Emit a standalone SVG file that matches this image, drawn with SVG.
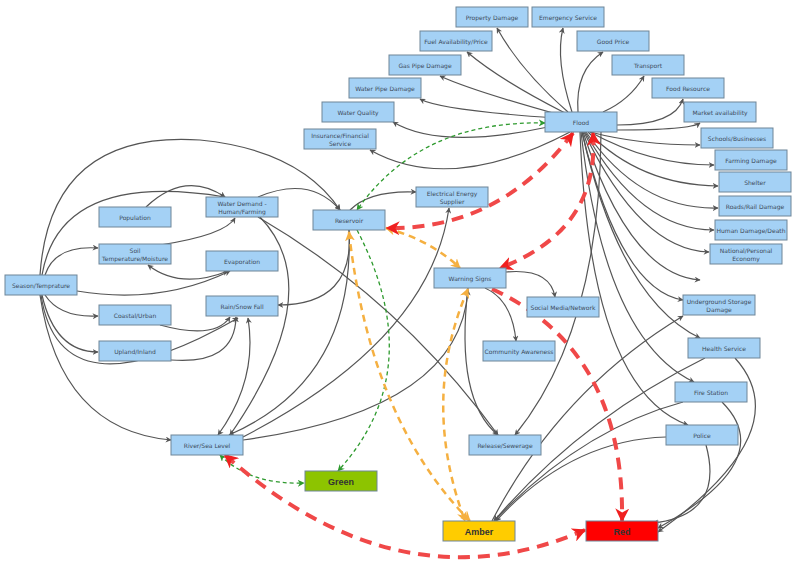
<svg xmlns="http://www.w3.org/2000/svg" width="800" height="573" viewBox="0 0 800 573">
<style>
.n rect{fill:#a4d1f5;stroke:#6e8597;stroke-width:1}
.n text{font-family:"DejaVu Sans",sans-serif;font-size:6px;fill:#3c4a5a;text-anchor:middle}
.c path{fill:none}
.g{stroke:#555;stroke-width:1.2;marker-end:url(#ag)}
.gb{stroke:#555;stroke-width:1.2;marker-end:url(#ag);marker-start:url(#ag)}
.gr{stroke:#2e9a2e;stroke-width:1.3;stroke-dasharray:4 3;marker-end:url(#agr);marker-start:url(#agr)}
.gr1{stroke:#2e9a2e;stroke-width:1.3;stroke-dasharray:4 3;marker-end:url(#agr)}
.am{stroke:#f5b041;stroke-width:2.5;stroke-dasharray:7 5;marker-end:url(#aam);marker-start:url(#aam)}
.rd{stroke:#f04848;stroke-width:4;stroke-dasharray:12 8;marker-end:url(#ard);marker-start:url(#ard)}
.rd1{stroke:#f04848;stroke-width:4;stroke-dasharray:12 8;marker-end:url(#ard)}
.s text{font-family:"Liberation Sans",sans-serif;font-size:9px;font-weight:bold;text-anchor:middle;fill:#333}
</style>
<defs>
<marker id="ag" viewBox="0 0 10 10" refX="9" refY="5" markerWidth="6" markerHeight="6" markerUnits="userSpaceOnUse" orient="auto-start-reverse"><path d="M0,0L10,5L0,10L3,5z" fill="#555"/></marker>
<marker id="agr" viewBox="0 0 10 10" refX="9" refY="5" markerWidth="7" markerHeight="7" markerUnits="userSpaceOnUse" orient="auto-start-reverse"><path d="M0,0L10,5L0,10L3,5z" fill="#2e9a2e"/></marker>
<marker id="aam" viewBox="0 0 10 10" refX="9" refY="5" markerWidth="10" markerHeight="10" markerUnits="userSpaceOnUse" orient="auto-start-reverse"><path d="M0,0L10,5L0,10L3,5z" fill="#f5b041"/></marker>
<marker id="ard" viewBox="0 0 10 10" refX="9" refY="5" markerWidth="14" markerHeight="14" markerUnits="userSpaceOnUse" orient="auto-start-reverse"><path d="M0,0L10,5L0,10L3,5z" fill="#f02020"/></marker>
</defs>
<rect width="800" height="573" fill="#fff"/>
<g id="connectors" class="c">
<path class="g" d="M568,112 Q520,70 497,28"/>
<path class="g" d="M572,112 Q555,60 563,28"/>
<path class="g" d="M565,113 Q500,80 467,52"/>
<path class="g" d="M560,115 Q470,90 440,76"/>
<path class="g" d="M555,118 Q440,110 420,99"/>
<path class="g" d="M548,127 Q440,150 393,122"/>
<path class="g" d="M570,132 Q450,195 370,150"/>
<path class="g" d="M578,112 Q575,70 603,52"/>
<path class="g" d="M603,112 Q630,100 644,76"/>
<path class="g" d="M617,125 Q675,125 683,99"/>
<path class="g" d="M617,130 Q690,130 700,123"/>
<path class="g" d="M590,132 Q640,145 700,145"/>
<path class="g" d="M590,132 Q650,165 714,165"/>
<path class="g" d="M588,132 Q640,185 718,186"/>
<path class="g" d="M586,132 Q640,210 718,208"/>
<path class="g" d="M585,132 Q640,230 714,230"/>
<path class="g" d="M584,132 Q640,250 709,252"/>
<path class="g" d="M583,132 Q630,275 700,280"/>
<path class="g" d="M582,132 Q620,290 683,300"/>
<path class="g" d="M582,132 Q620,300 700,338"/>
<path class="g" d="M581,132 Q605,340 694,382"/>
<path class="g" d="M580,132 Q590,390 688,425"/>
<path class="g" d="M601,132 Q600,330 515,435"/>
<path class="g" d="M492,521 Q560,390 683,316"/>
<path class="g" d="M705,358 Q580,420 494,521"/>
<path class="g" d="M683,402 Q580,430 494,521"/>
<path class="g" d="M666,437 Q570,440 496,521"/>
<path class="g" d="M735,358 Q800,430 658,532"/>
<path class="g" d="M722,402 Q780,460 658,528"/>
<path class="g" d="M706,445 Q725,515 653,523"/>
<path class="g" d="M506,272 Q550,268 555,297"/>
<path class="g" d="M485,288 Q512,300 516,341"/>
<path class="g" d="M468,288 Q455,400 498,435"/>
<path class="g" d="M258,217 Q400,300 498,435"/>
<path class="g" d="M243,440 Q460,410 468,290"/>
<path class="g" d="M350,210 Q370,190 416,192"/>
<path class="g" d="M243,437 Q430,340 449,208"/>
<path class="g" d="M349,230 Q355,305 278,305"/>
<path class="g" d="M349,230 Q355,380 229,435"/>
<path class="g" d="M258,197 Q310,175 340,210"/>
<path class="g" d="M40,275 Q50,130 200,140 Q300,150 340,210"/>
<path class="g" d="M42,275 Q60,170 225,197"/>
<path class="g" d="M146,207 Q185,170 225,197"/>
<path class="g" d="M160,245 Q225,235 235,218"/>
<path class="g" d="M45,275 Q55,245 98,248"/>
<path class="gb" d="M148,265 Q180,290 228,271"/>
<path class="g" d="M77,291 Q160,305 230,271"/>
<path class="g" d="M45,295 Q60,318 98,316"/>
<path class="g" d="M42,295 Q55,352 98,352"/>
<path class="g" d="M41,295 Q60,420 238,318"/>
<path class="g" d="M40,295 Q60,430 171,440"/>
<path class="g" d="M160,325 Q215,340 230,317"/>
<path class="g" d="M171,360 Q235,365 236,317"/>
<path class="gb" d="M248,318 Q258,380 218,435"/>
<path class="g" d="M260,217 Q330,290 230,435"/>
<path class="gr" d="M545,123 Q420,120 357,210"/>
<path class="gr1" d="M357,230 Q430,370 338,471"/>
<path class="gr" d="M220,455 Q250,485 304,483"/>
<path class="am" d="M386,228 Q430,240 460,268"/>
<path class="am" d="M349,232 Q370,420 470,521"/>
<path class="am" d="M468,289 Q420,400 465,521"/>
<path class="rd" d="M573,133 Q500,230 387,228"/>
<path class="rd" d="M593,133 Q600,230 500,268"/>
<path class="rd1" d="M492,289 Q625,350 622,521"/>
<path class="rd" d="M225,455 Q400,610 585,530"/>
</g>
<g class="n">
<g id="property"><rect x="456" y="7" width="72" height="20"/><text x="492" y="19.5">Property Damage</text></g>
<g id="emergency"><rect x="532" y="7" width="72" height="20"/><text x="568" y="19.5">Emergency Service</text></g>
<g id="fuel"><rect x="420" y="31" width="72" height="20"/><text x="456" y="43.5">Fuel Availability/Price</text></g>
<g id="goodprice"><rect x="577" y="31" width="72" height="20"/><text x="613" y="43.5">Good Price</text></g>
<g id="gaspipe"><rect x="389" y="55" width="72" height="20"/><text x="425" y="67.5">Gas Pipe Damage</text></g>
<g id="transport"><rect x="612" y="55" width="72" height="20"/><text x="648" y="67.5">Transport</text></g>
<g id="waterpipe"><rect x="349" y="78" width="72" height="20"/><text x="385" y="90.5">Water Pipe Damage</text></g>
<g id="food"><rect x="652" y="78" width="72" height="20"/><text x="688" y="90.5">Food Resource</text></g>
<g id="waterquality"><rect x="322" y="102" width="72" height="20"/><text x="358" y="114.5">Water Quality</text></g>
<g id="market"><rect x="684" y="102" width="72" height="20"/><text x="720" y="114.5">Market availability</text></g>
<g id="insurance"><rect x="304" y="129" width="72" height="20"/><text x="340" y="137.5">Insurance/Financial</text><text x="340" y="145.5">Service</text></g>
<g id="flood"><rect x="545" y="112" width="72" height="20"/><text x="581" y="124.5">Flood</text></g>
<g id="schools"><rect x="701" y="128" width="72" height="20"/><text x="737" y="140.5">Schools/Businesses</text></g>
<g id="farming"><rect x="715" y="150" width="72" height="20"/><text x="751" y="162.5">Farming Damage</text></g>
<g id="shelter"><rect x="719" y="172" width="72" height="20"/><text x="755" y="184.5">Shelter</text></g>
<g id="roads"><rect x="719" y="196" width="72" height="20"/><text x="755" y="208.5">Roads/Rail Damage</text></g>
<g id="human"><rect x="715" y="220" width="72" height="20"/><text x="751" y="232.5">Human Damage/Death</text></g>
<g id="economy"><rect x="710" y="244" width="72" height="20"/><text x="746" y="252.5">National/Personal</text><text x="746" y="260.5">Economy</text></g>
<g id="electrical"><rect x="416" y="187" width="72" height="20"/><text x="452" y="195.5">Electrical Energy</text><text x="452" y="203.5">Supplier</text></g>
<g id="reservoir"><rect x="313" y="210" width="72" height="20"/><text x="349" y="222.5">Reservoir</text></g>
<g id="waterdemand"><rect x="206" y="197" width="72" height="20"/><text x="242" y="205.5">Water Demand -</text><text x="242" y="213.5">Human/Farming</text></g>
<g id="population"><rect x="99" y="207" width="72" height="20"/><text x="135" y="219.5">Population</text></g>
<g id="soil"><rect x="99" y="244" width="72" height="20"/><text x="135" y="252.5">Soil</text><text x="135" y="260.5">Temperature/Moisture</text></g>
<g id="evaporation"><rect x="206" y="251" width="72" height="20"/><text x="242" y="263.5">Evaporation</text></g>
<g id="season"><rect x="5" y="275" width="72" height="20"/><text x="41" y="287.5">Season/Temprature</text></g>
<g id="rain"><rect x="206" y="296" width="72" height="20"/><text x="242" y="308.5">Rain/Snow Fall</text></g>
<g id="coastal"><rect x="99" y="305" width="72" height="20"/><text x="135" y="317.5">Coastal/Urban</text></g>
<g id="upland"><rect x="99" y="341" width="72" height="20"/><text x="135" y="353.5">Upland/Inland</text></g>
<g id="river"><rect x="171" y="435" width="72" height="20"/><text x="207" y="447.5">River/Sea Level</text></g>
<g id="warning"><rect x="434" y="268" width="72" height="20"/><text x="470" y="280.5">Warning Signs</text></g>
<g id="social"><rect x="527" y="297" width="72" height="20"/><text x="563" y="309.5">Social Media/Network</text></g>
<g id="community"><rect x="483" y="341" width="72" height="20"/><text x="519" y="353.5">Community Awareness</text></g>
<g id="release"><rect x="469" y="435" width="72" height="20"/><text x="505" y="447.5">Release/Sewerage</text></g>
<g id="underground"><rect x="683" y="295" width="72" height="20"/><text x="719" y="303.5">Underground Storage</text><text x="719" y="311.5">Damage</text></g>
<g id="health"><rect x="688" y="338" width="72" height="20"/><text x="724" y="350.5">Health Service</text></g>
<g id="fire"><rect x="675" y="382" width="72" height="20"/><text x="711" y="394.5">Fire Station</text></g>
<g id="police"><rect x="666" y="425" width="72" height="20"/><text x="702" y="437.5">Police</text></g>
</g>
<g class="s">
<g id="green"><rect x="305" y="471" width="72" height="20" fill="#8dc400" stroke="#6e8597"/><text x="341" y="484.5">Green</text></g>
<g id="amber"><rect x="443" y="521" width="72" height="20" fill="#ffcc00" stroke="#6e8597"/><text x="479" y="534.5">Amber</text></g>
<g id="red"><rect x="586" y="521" width="72" height="20" fill="#ff0000" stroke="#6e8597"/><text x="622" y="534.5">Red</text></g>
</g>
</svg>
